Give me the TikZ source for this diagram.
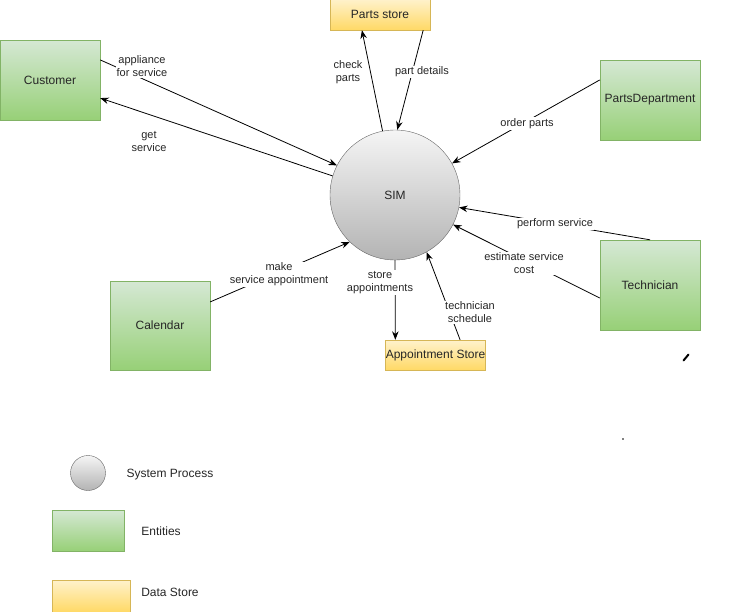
\documentclass[tikz,border=0pt]{standalone}
\usepackage{fontspec}
\setmainfont{Liberation Sans}
\usetikzlibrary{arrows.meta,calc}
\definecolor{gtop}{HTML}{D5E8D4}
\definecolor{gbot}{HTML}{97D077}
\definecolor{gline}{HTML}{82B366}
\definecolor{ytop}{HTML}{FFF2CC}
\definecolor{ybot}{HTML}{FFD966}
\definecolor{yline}{HTML}{D6B656}
\definecolor{ctop}{HTML}{F5F5F5}
\definecolor{cbot}{HTML}{B3B3B3}
\definecolor{cline}{HTML}{666666}
\begin{document}
\begin{tikzpicture}[x=1pt,y=-1pt,
  entity/.style={draw=gline,top color=gtop,bottom color=gbot,minimum width=100pt,minimum height=80pt,inner sep=0pt,font=\fontsize{12}{14}\selectfont,text=black!85},
  store/.style={draw=yline,top color=ytop,bottom color=ybot,minimum width=100pt,minimum height=30pt,inner sep=0pt,font=\fontsize{12}{14}\selectfont,text=black!85},
  proc/.style={circle,draw=cline,top color=ctop,bottom color=cbot,minimum size=130pt,inner sep=0pt,font=\fontsize{12}{14}\selectfont,text=black!85},
  flow/.style={draw=black,line width=0.8pt,-{Stealth[length=8.5pt,width=6.5pt]}},
  lbl/.style={fill=white,inner sep=1pt,align=center,font=\fontsize{11}{13}\selectfont,text=black!85},
  legtext/.style={font=\fontsize{12}{14}\selectfont,text=black!85}]
\useasboundingbox (0,0) rectangle (744,611);

% main nodes
\node[entity] (cust) at (50,80) {\raisebox{-1.5pt}{Customer}};
\node[proc] (sim) at (395,195) {\raisebox{-1.5pt}{SIM}};
\node[store,minimum height=31pt] (parts) at (380,14.5) {\raisebox{-1pt}{Parts store}};
\node[entity] (pdept) at (650,100) {\raisebox{-1.5pt}{PartsDepartment}};
\node[entity,minimum height=90pt] (tech) at (650,285) {\raisebox{-1.5pt}{Technician}};
\node[entity,minimum height=89pt] (cal) at (160,325.5) {\raisebox{-1.5pt}{Calendar}};
\node[store,minimum width=100pt] (astore) at (435.5,355) {\raisebox{-1.5pt}{Appointment Store}};

% connectors
\draw[flow] ($(cust.north east)!0.25!(cust.south east)$) -- (sim.153);
\draw[flow] (sim.163) -- ($(cust.north east)!0.725!(cust.south east)$);
\draw[flow] (sim.101) -- ($(parts.south west)!0.32!(parts.south east)$);
\draw[flow] ($(parts.south west)!0.93!(parts.south east)$) -- (sim.88);
\draw[flow] ($(pdept.north west)!0.25!(pdept.south west)$) -- (sim.29);
\draw[flow] (tech.north) -- (sim.-11);
\draw[flow] ($(tech.north west)!0.644!(tech.south west)$) -- (sim.-27);
\draw[flow] ($(cal.north east)!0.236!(cal.south east)$) -- (sim.226);
\draw[flow] (sim.south) -- ($(astore.north west)!0.1!(astore.north east)$);
\draw[flow] ($(astore.north west)!0.745!(astore.north east)$) -- (sim.-61);

% labels
\node[lbl] (l1) at (142,66.5) {appliance\\for service};
\node[lbl] (l2) at (149,141.5) {get\\service};
\node[lbl] (l3) at (348,72.5) {check\\parts};
\node[lbl] (l4) at (422,72) {part details};
\node[lbl] (l5) at (527,123.5) {order parts};
\node[lbl] (l6) at (555,224) {perform service};
\node[lbl] (l7) at (524,263.5) {estimate service\\cost};
\node[lbl] (l8) at (279,274.5) {make\\service appointment};
\node[lbl] (l9) at (380,282.5) {store\\appointments};
\node[lbl] (l10) at (470,312.5) {technician\\schedule};

% legend
\node[circle,draw=cline,top color=ctop,bottom color=cbot,minimum size=35pt,inner sep=0pt] (lgc) at (88,473) {};
\node[legtext] (lgct) at (170,474.5) {System Process};
\node[draw=gline,top color=gtop,bottom color=gbot,minimum width=72pt,minimum height=41pt,inner sep=0pt] (lge) at (88,530.5) {};
\node[legtext] (lget) at (161,531.5) {Entities};
\node[draw=yline,top color=ytop,bottom color=ybot,minimum width=78pt,minimum height=32pt,inner sep=0pt] (lgd) at (91.5,596) {};
\node[legtext] (lgdt) at (170,592.5) {Data Store};

% stray marks
\draw[line width=2pt,line cap=round] (683.5,360.5) -- (688.5,354.5);
\fill (623,439) circle (0.8pt);
\end{tikzpicture}
\end{document}
